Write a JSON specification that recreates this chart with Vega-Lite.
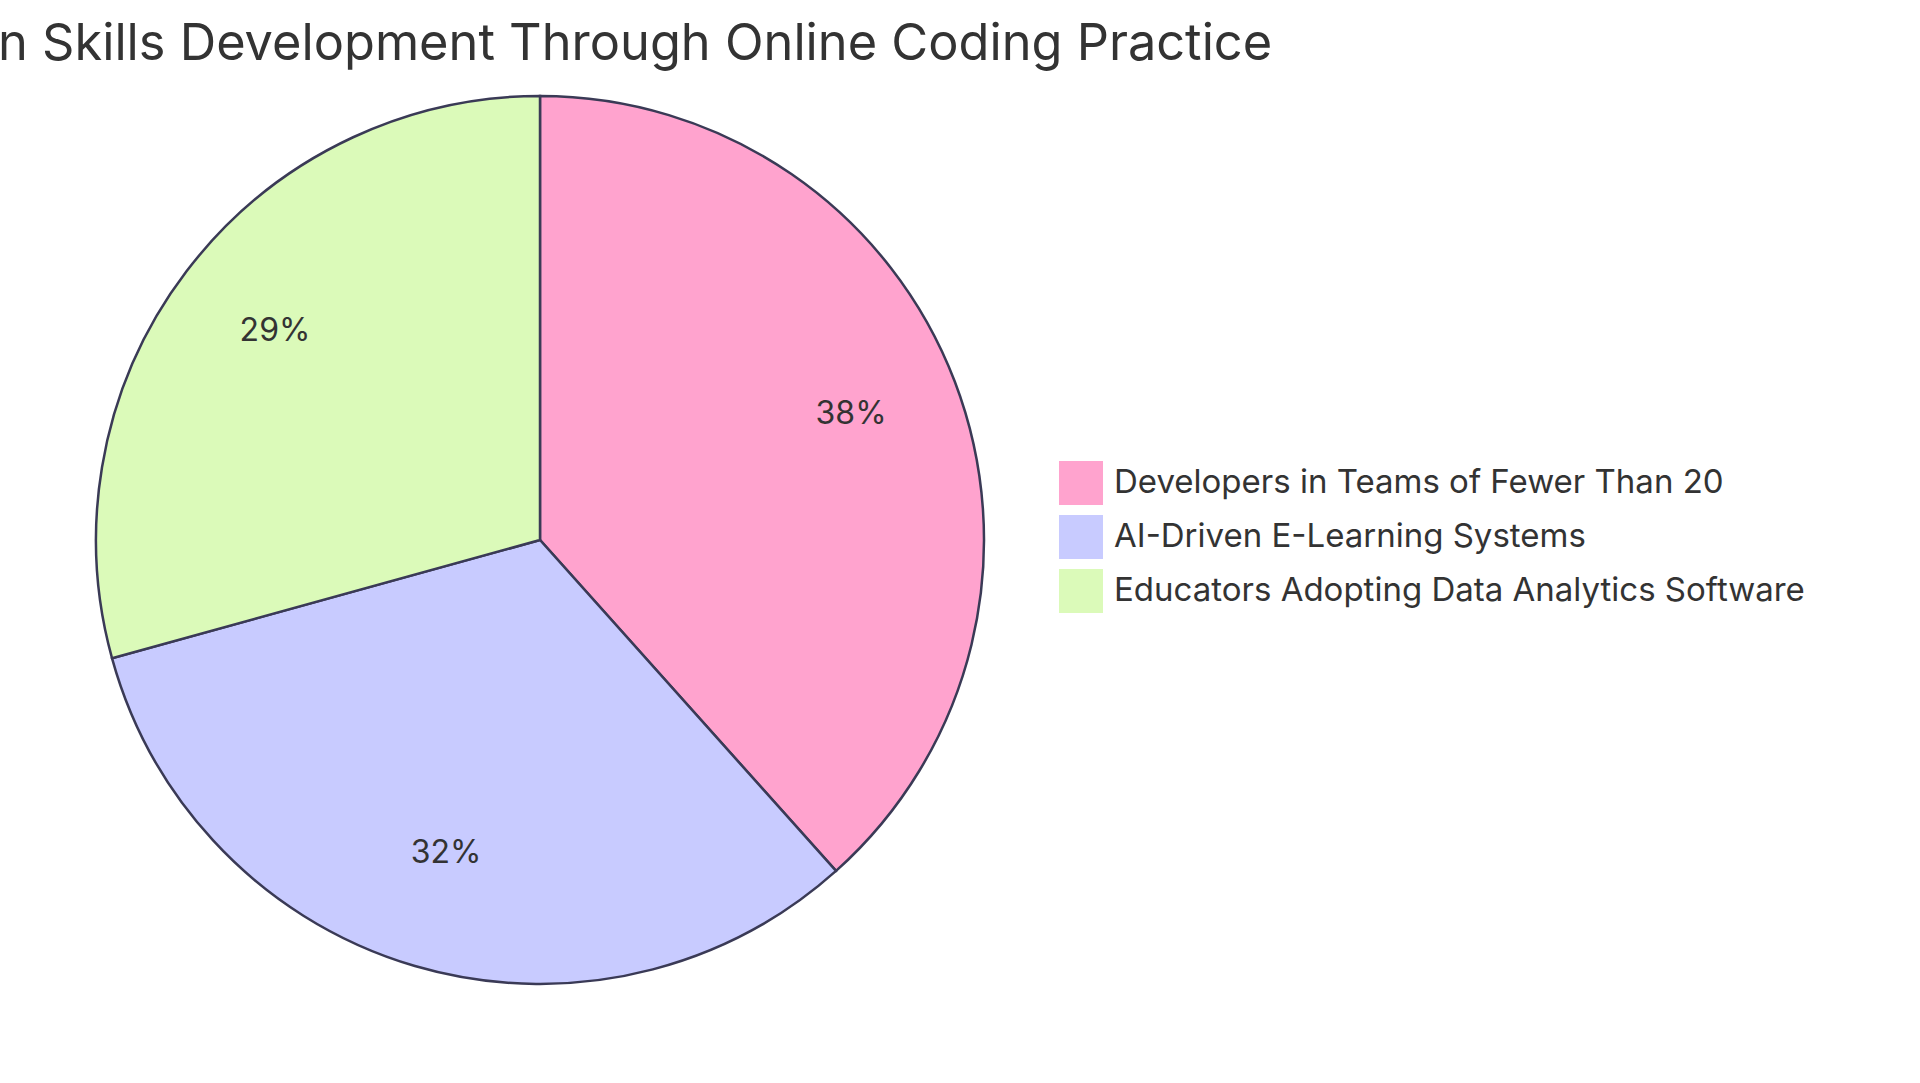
{
  "$schema": "https://vega.github.io/schema/vega-lite/v6.json",
  "width": 1080,
  "height": 916,
  "autosize": {"type": "none"},
  "padding": {"left": 0, "top": 82, "right": 840, "bottom": 85},
  "background": "white",
  "title": {
    "text": "n Skills Development Through Online Coding Practice",
    "anchor": "start",
    "frame": "group",
    "fontSize": 50.5,
    "font": "Inter",
    "fontWeight": 400,
    "color": "#333333",
    "baseline": "alphabetic",
    "offset": 18,
    "dx": -2,
    "dy": 46,
    "limit": 0
  },
  "data": {
    "values": [
      {"category": "Developers in Teams of Fewer Than 20", "value": 38, "label": "38%", "order": 1},
      {"category": "AI-Driven E-Learning Systems", "value": 32, "label": "32%", "order": 2},
      {"category": "Educators Adopting Data Analytics Software", "value": 29, "label": "29%", "order": 3}
    ]
  },
  "encoding": {
    "theta": {"field": "value", "type": "quantitative", "stack": true},
    "order": {"field": "order", "type": "quantitative"}
  },
  "layer": [
    {
      "mark": {"type": "arc", "outerRadius": 444, "stroke": "#3a3a56", "strokeWidth": 2.5},
      "encoding": {
        "color": {
          "field": "category",
          "type": "nominal",
          "sort": ["Developers in Teams of Fewer Than 20", "AI-Driven E-Learning Systems", "Educators Adopting Data Analytics Software"],
          "scale": {
            "domain": ["Developers in Teams of Fewer Than 20", "AI-Driven E-Learning Systems", "Educators Adopting Data Analytics Software"],
            "range": ["#FFA3CE", "#C8CBFF", "#DBFAB9"]
          },
          "legend": {
            "title": null,
            "orient": "none",
            "legendX": 1059,
            "legendY": 379,
            "symbolType": "square",
            "symbolSize": 1936,
            "symbolStrokeWidth": 0,
            "symbolOpacity": 1,
            "labelFont": "Inter",
            "labelFontSize": 33,
            "labelColor": "#333333",
            "labelOffset": 11,
            "labelLimit": 0,
            "rowPadding": 10,
            "padding": 0
          }
        }
      }
    },
    {
      "mark": {"type": "text", "radius": 333, "fontSize": 32, "font": "Inter", "fill": "#333333", "dy": -7},
      "encoding": {
        "text": {"field": "label", "type": "nominal"}
      }
    }
  ],
  "config": {"view": {"stroke": null}}
}
